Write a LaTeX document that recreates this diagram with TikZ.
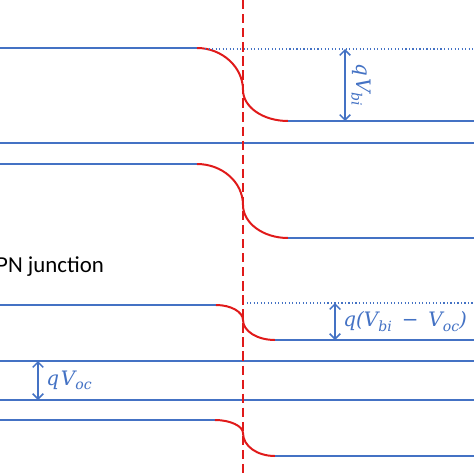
\documentclass[tikz,border=0pt]{standalone}
\usepackage{fontspec}
\setmainfont{Carlito}
\newfontfamily\mfont{DejaVu Serif}
\usetikzlibrary{arrows.meta,positioning,calc}
\definecolor{bandblue}{HTML}{4472C4}
\definecolor{junred}{HTML}{E01A1A}
\newcommand{\lowsub}[1]{\raisebox{-0.45ex}{\fontsize{12}{12}\selectfont #1}}

\begin{document}
\begin{tikzpicture}[
    x=0.03cm, y=-0.03cm,
    band/.style={draw=bandblue, line width=1.4pt},
    curve/.style={draw=junred, line width=1.7pt},
    ref/.style={draw=bandblue, line width=1pt, dotted},
    gap/.style={{Straight Barb[length=1.6mm]}-{Straight Barb[length=1.6mm]}, draw=bandblue, line width=1.3pt},
    lbl/.style={text=bandblue, font=\mfont\itshape\fontsize{17}{19}\selectfont, inner sep=1pt}
]
\useasboundingbox (0,0) rectangle (474,474);

% equilibrium
\coordinate (e1l) at (0,48);
\coordinate (e1a) at (197,48);
\coordinate (e1m) at (243,90);
\coordinate (e1b) at (288,121);
\coordinate (e1r) at (474,121);
\coordinate (d1a) at (205,49);
\coordinate (d1r) at (474,49);
\coordinate (e1v) at (0,143);
\coordinate (e1w) at (474,143);
\draw[band] (e1l) -- (e1a);
\draw[curve] (e1a) .. controls +(25,0) and +(0,-23) .. (e1m)
            .. controls +(0,17) and +(-25,0) .. (e1b);
\draw[band] (e1b) -- (e1r);
\draw[ref] (d1a) -- (d1r);
\draw[band] (e1v) -- (e1w);
\coordinate (q1t) at (345,49);
\coordinate (q1b) at (345,121);
\draw[gap] (q1t) -- (q1b);
\node[lbl, rotate=-90, anchor=south] (vbi) at ($(q1t)!0.5!(q1b)+(5,0)$) {q\kern1.5pt V\lowsub{bi}};

\coordinate (e2l) at (0,164);
\coordinate (e2a) at (197,164);
\coordinate (e2m) at (243,205);
\coordinate (e2b) at (288,238);
\coordinate (e2r) at (474,238);
\draw[band] (e2l) -- (e2a);
\draw[curve] (e2a) .. controls +(25,0) and +(0,-23) .. (e2m)
            .. controls +(0,18) and +(-25,0) .. (e2b);
\draw[band] (e2b) -- (e2r);

\node[font=\fontsize{19.5}{22}\selectfont, anchor=base west, inner sep=0pt] (title) at (-4,272) {PN junction};

% under illumination
\coordinate (e3l) at (0,305);
\coordinate (e3a) at (216,305);
\coordinate (e3m) at (243,320);
\coordinate (e3b) at (275,340);
\coordinate (e3r) at (474,340);
\coordinate (d3a) at (243,303);
\coordinate (d3r) at (474,303);
\coordinate (e3v) at (0,361);
\coordinate (e3w) at (474,361);
\draw[band] (e3l) -- (e3a);
\draw[curve] (e3a) .. controls +(15,0) and +(0,-8) .. (e3m)
            .. controls +(0,11) and +(-18,0) .. (e3b);
\draw[band] (e3b) -- (e3r);
\draw[ref] (d3a) -- (d3r);
\draw[band] (e3v) -- (e3w);
\coordinate (q3t) at (335,303);
\coordinate (q3b) at (335,340);
\draw[gap] (q3t) -- (q3b);
\node[lbl, right=6pt of $(q3t)!0.5!(q3b)$] (vdiff) {q(V\lowsub{bi}\enspace{\upshape\symbol{"2212}}\enspace V\lowsub{oc})};

\coordinate (e4v) at (0,400);
\coordinate (e4w) at (474,400);
\draw[band] (e4v) -- (e4w);
\coordinate (q4t) at (38,361);
\coordinate (q4b) at (38,400);
\draw[gap] (q4t) -- (q4b);
\node[lbl, right=6pt of $(q4t)!0.5!(q4b)$] (voc) {q\kern1.5pt V\lowsub{oc}};

\coordinate (e5l) at (0,420);
\coordinate (e5a) at (215,420);
\coordinate (e5m) at (243,433);
\coordinate (e5b) at (275,456);
\coordinate (e5r) at (474,456);
\draw[band] (e5l) -- (e5a);
\draw[curve] (e5a) .. controls +(15,0) and +(0,-7) .. (e5m)
            .. controls +(0,13) and +(-18,0) .. (e5b);
\draw[band] (e5b) -- (e5r);

% junction plane
\coordinate (jtop) at (243,0);
\coordinate (jbot) at (243,474);
\draw[junred, line width=2.2pt, dash pattern=on 8pt off 4pt] (jtop) -- (jbot);
\end{tikzpicture}
\end{document}
